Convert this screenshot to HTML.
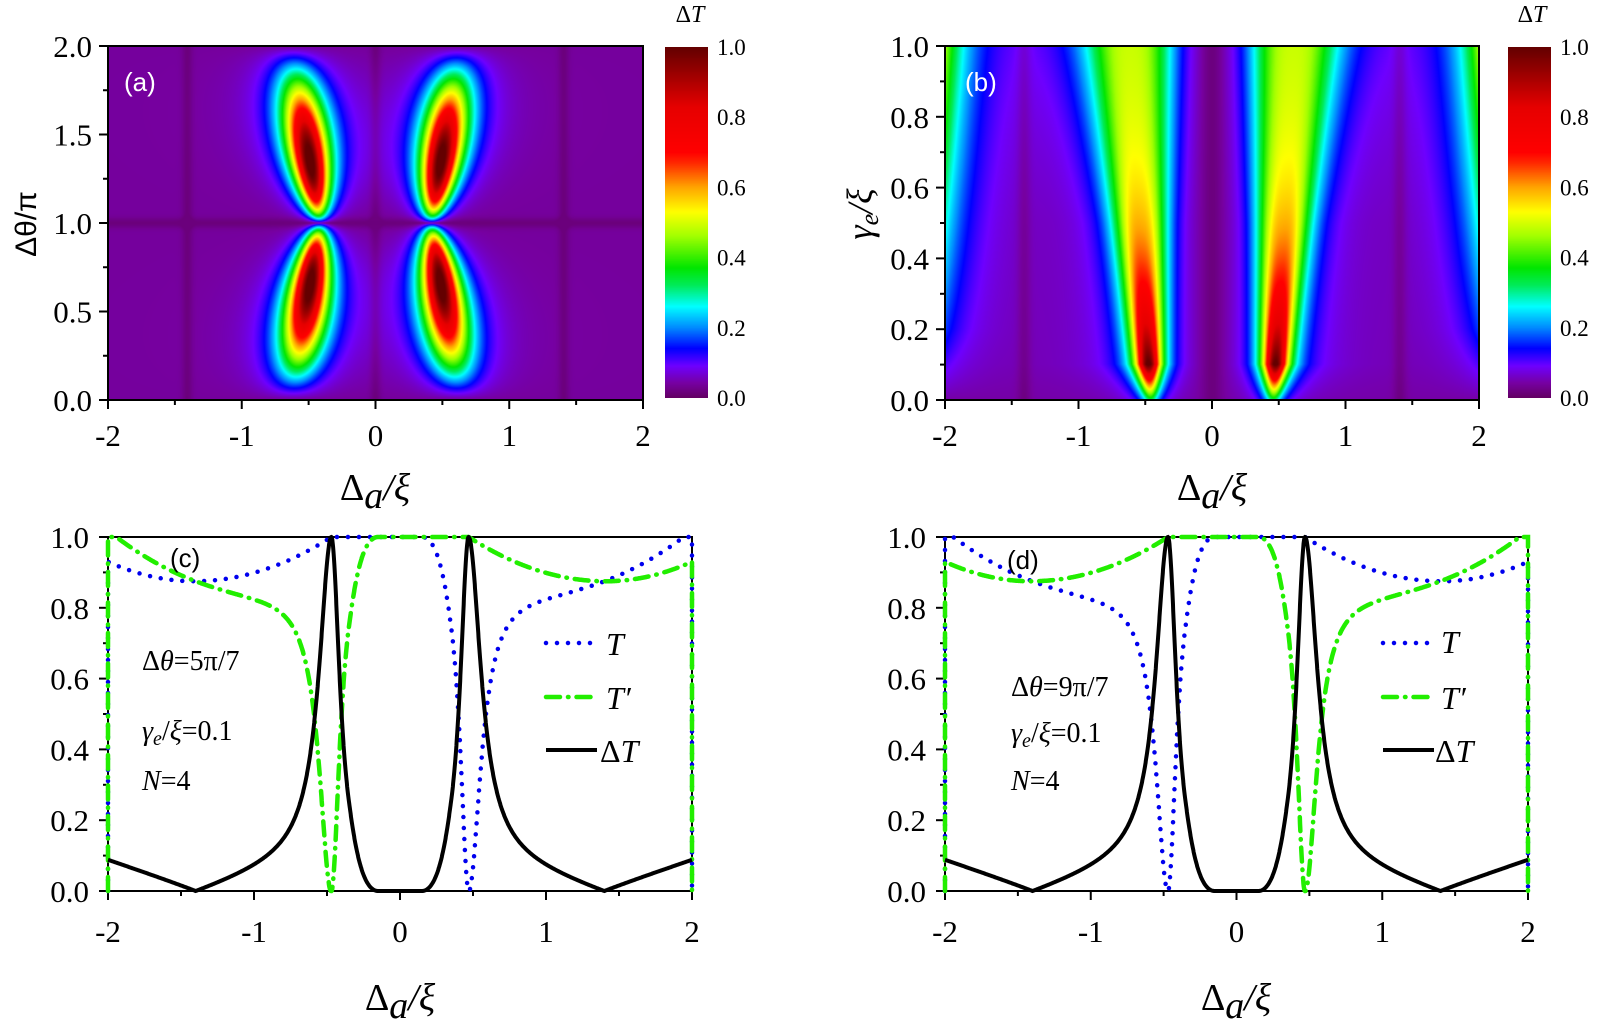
<!DOCTYPE html>
<html><head><meta charset="utf-8"><style>
html,body{margin:0;padding:0;background:#fff;width:1600px;height:1020px;overflow:hidden}
canvas{position:absolute}
svg{position:absolute;left:0;top:0;font-family:"Liberation Serif","Times New Roman",serif}
svg text{font-family:"Liberation Serif","Times New Roman",serif}
svg text.sans{font-family:"Liberation Sans",Arial,sans-serif}
</style></head><body>
<canvas id="ca" width="535" height="354" style="left:108px;top:46px"></canvas>
<canvas id="cb" width="534" height="354" style="left:945px;top:46px"></canvas>
<canvas id="cba" width="43" height="351" style="left:665px;top:47px"></canvas>
<canvas id="cbb" width="43" height="351" style="left:1508px;top:47px"></canvas>
<svg id="s" width="1600" height="1020" xmlns="http://www.w3.org/2000/svg">
<g id="g"></g>
<text class="sans" x="124" y="91" font-size="26" fill="#fff">(a)</text>
<text class="sans" x="965" y="91" font-size="26" fill="#fff">(b)</text>
<text class="sans" x="170" y="567" font-size="26">(c)</text>
<text class="sans" x="1007" y="569" font-size="26">(d)</text>
<text x="690" y="22" font-size="24" text-anchor="middle">Δ<tspan font-style="italic">T</tspan></text>
<text x="1532" y="22" font-size="24" text-anchor="middle">Δ<tspan font-style="italic">T</tspan></text>
<text x="375" y="500" font-size="38" text-anchor="middle">Δ<tspan font-style="italic" dy="8">a</tspan><tspan font-style="italic" dy="-8">/ξ</tspan></text>
<text x="1212" y="500" font-size="38" text-anchor="middle">Δ<tspan font-style="italic" dy="8">a</tspan><tspan font-style="italic" dy="-8">/ξ</tspan></text>
<text x="400" y="1010" font-size="38" text-anchor="middle">Δ<tspan font-style="italic" dy="8">a</tspan><tspan font-style="italic" dy="-8">/ξ</tspan></text>
<text x="1236" y="1010" font-size="38" text-anchor="middle">Δ<tspan font-style="italic" dy="8">a</tspan><tspan font-style="italic" dy="-8">/ξ</tspan></text>
<text class="sans" transform="translate(36,224) rotate(-90)" font-size="30" text-anchor="middle">Δθ/π</text>
<text transform="translate(872,214) rotate(-90)" font-size="36" font-style="italic" text-anchor="middle">γ<tspan font-size="26" dy="6">e</tspan><tspan dy="-6">/ξ</tspan></text>
<g font-size="28">
<text x="142" y="670">Δ<tspan font-style="italic">θ</tspan>=5π/7</text>
<text x="142" y="740"><tspan font-style="italic">γ</tspan><tspan font-style="italic" font-size="20" dy="5">e</tspan><tspan dy="-5">/</tspan><tspan font-style="italic">ξ</tspan>=0.1</text>
<text x="142" y="790"><tspan font-style="italic">N</tspan>=4</text>
<text x="1011" y="696">Δ<tspan font-style="italic">θ</tspan>=9π/7</text>
<text x="1011" y="742"><tspan font-style="italic">γ</tspan><tspan font-style="italic" font-size="20" dy="5">e</tspan><tspan dy="-5">/</tspan><tspan font-style="italic">ξ</tspan>=0.1</text>
<text x="1011" y="790"><tspan font-style="italic">N</tspan>=4</text>
</g>
<g font-size="32">
<text x="606" y="655" font-style="italic">T</text>
<text x="606" y="709" font-style="italic">T′</text>
<text x="600" y="762">Δ<tspan font-style="italic">T</tspan></text>
<text x="1441" y="653" font-style="italic">T</text>
<text x="1441" y="709" font-style="italic">T′</text>
<text x="1435" y="762">Δ<tspan font-style="italic">T</tspan></text>
</g>
</svg>
<script>
var stops=[[0,100,0,100],[0.04,118,0,160],[0.09,110,0,255],[0.14,0,0,255],[0.2,0,140,255],[0.26,0,255,255],[0.32,0,235,90],[0.37,0,230,0],[0.46,160,255,0],[0.53,255,255,0],[0.6,255,165,0],[0.67,255,40,0],[0.7,255,0,0],[0.83,230,0,0],[0.92,160,0,0],[1,100,0,0]];
function cmap(v){v=Math.max(0,Math.min(1,v));for(var i=1;i<stops.length;i++){if(v<=stops[i][0]){var a=stops[i-1],b=stops[i],t=(v-a[0])/(b[0]-a[0]);return[a[1]+t*(b[1]-a[1]),a[2]+t*(b[2]-a[2]),a[3]+t*(b[3]-a[3])];}}return[100,0,0];}
function fill(id,f){var c=document.getElementById(id),x=c.getContext('2d'),W=c.width,H=c.height,im=x.createImageData(W,H),d=im.data;for(var j=0;j<H;j++)for(var i=0;i<W;i++){var col=cmap(f(i/(W-1),j/(H-1))),k=4*(j*W+i);d[k]=col[0];d[k+1]=col[1];d[k+2]=col[2];d[k+3]=255;}x.putImageData(im,0,0);}
function G(z,w){return Math.exp(-(z/w)*(z/w));}
fill('ca',function(u,vv){var x=-2+4*u,th=2*(1-vv),s=th<=1?th:2-th;var A=(s<=0||s>=1)?0:Math.pow(Math.sin(Math.PI*Math.pow(s,1.6)),0.7);var w=0.075+0.19*Math.sqrt(Math.max(0,1-s)),xc=0.42+0.2*(1-s),v=0;[-1,1].forEach(function(sg){var d=(x-sg*xc)/w;var q=1+d*d;v+=A/(q*q);});var base=0.038-0.022*Math.min(1,G(x,0.04)+G(Math.abs(x)-1.41,0.04)+G(th-1,0.03));return v+base;});
fill('cb',function(u,vv){var x=-2+4*u,g=1-vv;var A=g<0.1?0.3+7*g:0.42+0.58*Math.exp(-(g-0.1)/0.27);var w=0.066+0.26*g,p=2+1*Math.min(1,g/0.5),xc=0.46+0.15*g,P=0;[-1,1].forEach(function(sg){var d=Math.abs(x-sg*xc)/w;P+=A/(1+Math.pow(d,p));});P*=(1-G(x,0.25));var B=g<0.2?0.6*g:0.12+0.37*(g-0.2);var O=B*Math.exp((Math.abs(x)-2)/0.2);var base=0.042-0.024*Math.min(1,G(x,0.08)+G(Math.abs(x)-1.41,0.05));return P+O+base;});
fill('cba',function(u,v){return 1-v;});fill('cbb',function(u,v){return 1-v;});
var NS='http://www.w3.org/2000/svg',g=document.getElementById('g');
function el(t,a,txt){var e=document.createElementNS(NS,t);for(var k in a)e.setAttribute(k,a[k]);if(txt)e.textContent=txt;g.appendChild(e);return e;}
function axes(p){var X0=p.x0,X1=p.x1,Y0=p.y0,Y1=p.y1;
 el('rect',{x:X0,y:Y0,width:X1-X0,height:Y1-Y0,fill:'none',stroke:'#000','stroke-width':2});
 for(var v=-2;v<=2.001;v+=0.5){var px=X0+(v+2)/4*(X1-X0),maj=Math.abs(v-Math.round(v))<1e-6;el('line',{x1:px,x2:px,y1:Y1,y2:Y1+(maj?9:5),stroke:'#000','stroke-width':2});if(maj)el('text',{x:px,y:p.xl,'font-size':31,'text-anchor':'middle'},String(Math.round(v)));}
 for(var i=0;i<=p.nmin;i++){var v=p.ymax*i/p.nmin,py=Y1-(v/p.ymax)*(Y1-Y0),maj=i%2==0;el('line',{x1:X0,x2:X0-(maj?9:5),y1:py,y2:py,stroke:'#000','stroke-width':2});if(maj)el('text',{x:p.yl,y:py+11,'font-size':31,'text-anchor':'end'},v.toFixed(1));}}
axes({x0:108,x1:643,y0:46,y1:400,xl:446,yl:92,ymax:2,nmin:8});
axes({x0:945,x1:1479,y0:46,y1:400,xl:446,yl:929,ymax:1,nmin:10});
axes({x0:108,x1:692,y0:537,y1:891,xl:942,yl:89,ymax:1,nmin:10});
axes({x0:945,x1:1528,y0:537,y1:891,xl:942,yl:926,ymax:1,nmin:10});
[[717,47],[1560,47]].forEach(function(c){for(var i=0;i<=5;i++){el('text',{x:c[0],y:c[1]+351-i*351/5+8,'font-size':23},(i*0.2).toFixed(1));}});
function L(d,w){return 1/(1+(d/w)*(d/w));}
function Tb(a){return a>1.41?0.875+0.055*Math.pow((a-1.41)/0.59,2):0.875+0.125*Math.pow((1.41-a)/0.94,2);}
function sm(e0,e1,x){var t=Math.max(0,Math.min(1,(x-e0)/(e1-e0)));return t*t*(3-2*t);}
function left(x){var a=Math.abs(x);if(a>=0.47){var lin=-0.135*(a-1.41)-0.013,S=L(a-0.47,0.1)*(1-lin)+lin,T=Tb(a);return[T,Math.max(0,Math.min(1,T-S)),Math.min(1,Math.abs(S))];}var D=L(0.47-a,0.07)*sm(0.15,0.35,a);return[1,1-D,D];}
function cvals(x){if(x<=0)return left(x);var r=left(-x);return[r[1],r[0],r[2]];}
function plot(p,mirror){var X0=p.x0,X1=p.x1,Y0=p.y0,Y1=p.y1;function px(x){return X0+(x+2)/4*(X1-X0);}function py(y){return Y1-y*(Y1-Y0);}
 var pts=[[],[],[]];for(var x=-2;x<=2.0001;x+=0.002){var v=cvals(mirror?-x:x);for(var k=0;k<3;k++)pts[k].push(px(x).toFixed(1)+','+py(v[k]).toFixed(1));}
 var sty=[{stroke:'#0000ee','stroke-width':4.5,'stroke-dasharray':'0 11','stroke-linecap':'round'},{stroke:'#22ee00','stroke-width':4.5,'stroke-dasharray':'14 8 0.5 8','stroke-linecap':'round'},{stroke:'#000','stroke-width':4}];
 for(var k=0;k<3;k++){var d='M'+pts[k].join(' L');if(k<2)d='M'+px(-2)+','+py(0)+' L'+pts[k].join(' L')+' L'+px(2)+','+py(0);var a={d:d,fill:'none'};for(var s in sty[k])a[s]=sty[k][s];el('path',a);}
 var lx=p.lx,ly=[643,697,750];for(var k=0;k<3;k++){var a={x1:lx,x2:lx+51,y1:ly[k],y2:ly[k]};for(var s in sty[k])a[s]=sty[k][s];el('line',a);}}
plot({x0:108,x1:692,y0:537,y1:891,lx:546},false);
plot({x0:945,x1:1528,y0:537,y1:891,lx:1383},true);
</script>
</body></html>
